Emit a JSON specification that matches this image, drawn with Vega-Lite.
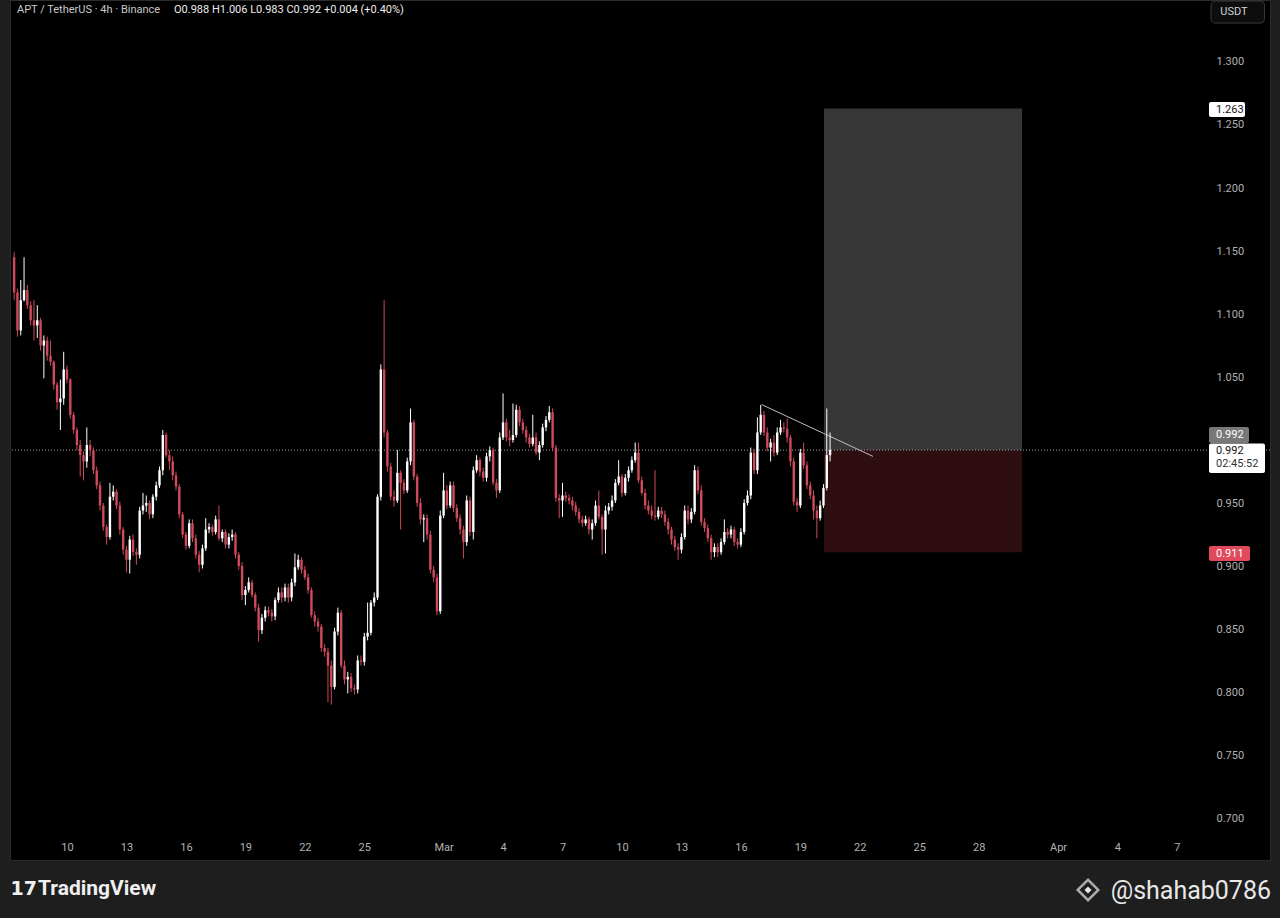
{
"$schema":"https://vega.github.io/schema/vega-lite/v6.json",
"width":1260,"height":860,
"autosize":{"type":"none"},
"padding":{"left":10,"top":0,"right":10,"bottom":58},
"background":"#1e1e1e",
"config":{"view":{"fill":"#000000","stroke":"#2b2b2b"},"font":"Roboto","scale":{"continuousPadding":0}},
"layer":[
{"data":{"values":[{"zone":"target","lo":0.992,"hi":1.263},{"zone":"stop","lo":0.911,"hi":0.992}]},
 "mark":{"type":"rect"},
 "encoding":{
  "x":{"datum":{"year":2026,"month":3,"date":20,"hours":4,"minutes":39,"utc":true},"type":"temporal","scale":{"type":"utc","nice":false,"padding":0,"domain":[{"year":2026,"month":2,"date":7,"hours":2,"minutes":59,"utc":true},{"year":2026,"month":4,"date":11,"hours":16,"minutes":42,"utc":true}]},
   "axis":{"orient":"bottom","offset":-13,"zindex":0,"labels":true,"domain":false,"ticks":false,"grid":false,"labelPadding":0,"labelBaseline":"middle","labelColor":"#b2b2b2","labelFontSize":11,"labelFont":"Roboto","labelFlush":false,"labelOverlap":false,"title":null,
    "values":[{"year":2026,"month":2,"date":10,"utc":true},{"year":2026,"month":2,"date":13,"utc":true},{"year":2026,"month":2,"date":16,"utc":true},{"year":2026,"month":2,"date":19,"utc":true},{"year":2026,"month":2,"date":22,"utc":true},{"year":2026,"month":2,"date":25,"utc":true},{"year":2026,"month":3,"date":1,"utc":true},{"year":2026,"month":3,"date":4,"utc":true},{"year":2026,"month":3,"date":7,"utc":true},{"year":2026,"month":3,"date":10,"utc":true},{"year":2026,"month":3,"date":13,"utc":true},{"year":2026,"month":3,"date":16,"utc":true},{"year":2026,"month":3,"date":19,"utc":true},{"year":2026,"month":3,"date":22,"utc":true},{"year":2026,"month":3,"date":25,"utc":true},{"year":2026,"month":3,"date":28,"utc":true},{"year":2026,"month":4,"date":1,"utc":true},{"year":2026,"month":4,"date":4,"utc":true},{"year":2026,"month":4,"date":7,"utc":true}],
    "labelExpr":"utcdate(datum.value) == 1 ? utcFormat(datum.value, '%b') : '' + utcdate(datum.value)"}},
  "x2":{"datum":{"year":2026,"month":3,"date":30,"hours":4,"minutes":25,"utc":true}},
  "y":{"field":"lo","type":"quantitative","scale":{"domain":[0.6667,1.3492],"zero":false,"nice":false,"padding":0},
   "axis":{"orient":"right","offset":-54,"zindex":0,"labels":true,"domain":false,"ticks":false,"grid":false,"labelPadding":0,"labelAlign":"left","labelBaseline":"middle","labelColor":"#b2b2b2","labelFontSize":11,"labelFont":"Roboto","labelFlush":false,"labelOverlap":false,"title":null,"format":".3f","values":[0.7,0.75,0.8,0.85,0.9,0.95,1.05,1.1,1.15,1.2,1.25,1.3]}},
  "y2":{"field":"hi"},
  "color":{"condition":{"test":"datum.zone==='target'","value":"#373737"},"value":"#2e0e11"}}},
{"data":{"values":[{"price":0.992}]},
 "mark":{"type":"rule","color":"#9e9e9e","strokeDash":[1,2],"strokeWidth":1},
 "encoding":{"y":{"field":"price","type":"quantitative","scale":{"domain":[0.6667,1.3492],"zero":false,"nice":false,"padding":0}}}},
{"data":{"values":[{"p0":1.028,"p1":0.987}]},
 "mark":{"type":"rule","color":"#bdbdbd","strokeWidth":1},
 "encoding":{
  "x":{"datum":{"year":2026,"month":3,"date":17,"hours":1,"minutes":35,"utc":true},"type":"temporal","scale":{"type":"utc","nice":false,"padding":0,"domain":[{"year":2026,"month":2,"date":7,"hours":2,"minutes":59,"utc":true},{"year":2026,"month":4,"date":11,"hours":16,"minutes":42,"utc":true}]}},
  "x2":{"datum":{"year":2026,"month":3,"date":22,"hours":16,"minutes":0,"utc":true}},
  "y":{"field":"p0","type":"quantitative","scale":{"domain":[0.6667,1.3492],"zero":false,"nice":false,"padding":0}},
  "y2":{"field":"p1"}}},
{"data":{"values":[
{"t":"2026-02-07T08:00Z","o":1.145,"h":1.149,"l":1.111,"c":1.117},
{"t":"2026-02-07T12:00Z","o":1.117,"h":1.120,"l":1.082,"c":1.087},
{"t":"2026-02-07T16:00Z","o":1.087,"h":1.127,"l":1.083,"c":1.111},
{"t":"2026-02-07T20:00Z","o":1.111,"h":1.145,"l":1.110,"c":1.119},
{"t":"2026-02-08T00:00Z","o":1.119,"h":1.123,"l":1.104,"c":1.107},
{"t":"2026-02-08T04:00Z","o":1.107,"h":1.110,"l":1.091,"c":1.095},
{"t":"2026-02-08T08:00Z","o":1.095,"h":1.111,"l":1.079,"c":1.091},
{"t":"2026-02-08T12:00Z","o":1.091,"h":1.107,"l":1.081,"c":1.095},
{"t":"2026-02-08T16:00Z","o":1.095,"h":1.097,"l":1.071,"c":1.075},
{"t":"2026-02-08T20:00Z","o":1.075,"h":1.083,"l":1.049,"c":1.079},
{"t":"2026-02-09T00:00Z","o":1.079,"h":1.082,"l":1.063,"c":1.067},
{"t":"2026-02-09T04:00Z","o":1.067,"h":1.079,"l":1.059,"c":1.062},
{"t":"2026-02-09T08:00Z","o":1.062,"h":1.063,"l":1.040,"c":1.044},
{"t":"2026-02-09T12:00Z","o":1.044,"h":1.046,"l":1.024,"c":1.030},
{"t":"2026-02-09T16:00Z","o":1.030,"h":1.048,"l":1.008,"c":1.033},
{"t":"2026-02-09T20:00Z","o":1.033,"h":1.070,"l":1.028,"c":1.056},
{"t":"2026-02-10T00:00Z","o":1.056,"h":1.059,"l":1.045,"c":1.048},
{"t":"2026-02-10T04:00Z","o":1.048,"h":1.049,"l":1.017,"c":1.020},
{"t":"2026-02-10T08:00Z","o":1.020,"h":1.022,"l":1.005,"c":1.008},
{"t":"2026-02-10T12:00Z","o":1.008,"h":1.010,"l":0.992,"c":0.996},
{"t":"2026-02-10T16:00Z","o":0.996,"h":1.000,"l":0.971,"c":0.988},
{"t":"2026-02-10T20:00Z","o":0.988,"h":0.991,"l":0.968,"c":0.983},
{"t":"2026-02-11T00:00Z","o":0.983,"h":1.010,"l":0.978,"c":0.996},
{"t":"2026-02-11T04:00Z","o":0.996,"h":1.000,"l":0.987,"c":0.992},
{"t":"2026-02-11T08:00Z","o":0.992,"h":0.994,"l":0.973,"c":0.976},
{"t":"2026-02-11T12:00Z","o":0.976,"h":0.979,"l":0.961,"c":0.964},
{"t":"2026-02-11T16:00Z","o":0.964,"h":0.967,"l":0.944,"c":0.948},
{"t":"2026-02-11T20:00Z","o":0.948,"h":0.950,"l":0.928,"c":0.931},
{"t":"2026-02-12T00:00Z","o":0.931,"h":0.933,"l":0.917,"c":0.923},
{"t":"2026-02-12T04:00Z","o":0.923,"h":0.966,"l":0.921,"c":0.955},
{"t":"2026-02-12T08:00Z","o":0.955,"h":0.964,"l":0.952,"c":0.959},
{"t":"2026-02-12T12:00Z","o":0.959,"h":0.961,"l":0.945,"c":0.948},
{"t":"2026-02-12T16:00Z","o":0.948,"h":0.951,"l":0.925,"c":0.929},
{"t":"2026-02-12T20:00Z","o":0.929,"h":0.931,"l":0.909,"c":0.913},
{"t":"2026-02-13T00:00Z","o":0.913,"h":0.916,"l":0.895,"c":0.905},
{"t":"2026-02-13T04:00Z","o":0.905,"h":0.924,"l":0.894,"c":0.921},
{"t":"2026-02-13T08:00Z","o":0.921,"h":0.925,"l":0.908,"c":0.911},
{"t":"2026-02-13T12:00Z","o":0.911,"h":0.914,"l":0.901,"c":0.909},
{"t":"2026-02-13T16:00Z","o":0.909,"h":0.947,"l":0.906,"c":0.944},
{"t":"2026-02-13T20:00Z","o":0.944,"h":0.958,"l":0.941,"c":0.948},
{"t":"2026-02-14T00:00Z","o":0.948,"h":0.956,"l":0.943,"c":0.950},
{"t":"2026-02-14T04:00Z","o":0.950,"h":0.952,"l":0.937,"c":0.941},
{"t":"2026-02-14T08:00Z","o":0.941,"h":0.957,"l":0.938,"c":0.955},
{"t":"2026-02-14T12:00Z","o":0.955,"h":0.967,"l":0.952,"c":0.964},
{"t":"2026-02-14T16:00Z","o":0.964,"h":0.979,"l":0.962,"c":0.976},
{"t":"2026-02-14T20:00Z","o":0.976,"h":1.008,"l":0.972,"c":1.004},
{"t":"2026-02-15T00:00Z","o":1.004,"h":1.006,"l":0.986,"c":0.988},
{"t":"2026-02-15T04:00Z","o":0.988,"h":0.992,"l":0.976,"c":0.983},
{"t":"2026-02-15T08:00Z","o":0.983,"h":0.987,"l":0.968,"c":0.972},
{"t":"2026-02-15T12:00Z","o":0.972,"h":0.975,"l":0.960,"c":0.963},
{"t":"2026-02-15T16:00Z","o":0.963,"h":0.965,"l":0.938,"c":0.941},
{"t":"2026-02-15T20:00Z","o":0.941,"h":0.943,"l":0.922,"c":0.925},
{"t":"2026-02-16T00:00Z","o":0.925,"h":0.927,"l":0.913,"c":0.916},
{"t":"2026-02-16T04:00Z","o":0.916,"h":0.937,"l":0.914,"c":0.934},
{"t":"2026-02-16T08:00Z","o":0.934,"h":0.937,"l":0.919,"c":0.922},
{"t":"2026-02-16T12:00Z","o":0.922,"h":0.925,"l":0.906,"c":0.909},
{"t":"2026-02-16T16:00Z","o":0.909,"h":0.912,"l":0.895,"c":0.901},
{"t":"2026-02-16T20:00Z","o":0.901,"h":0.917,"l":0.898,"c":0.914},
{"t":"2026-02-17T00:00Z","o":0.914,"h":0.938,"l":0.912,"c":0.929},
{"t":"2026-02-17T04:00Z","o":0.929,"h":0.934,"l":0.926,"c":0.931},
{"t":"2026-02-17T08:00Z","o":0.931,"h":0.933,"l":0.924,"c":0.927},
{"t":"2026-02-17T12:00Z","o":0.927,"h":0.940,"l":0.925,"c":0.937},
{"t":"2026-02-17T16:00Z","o":0.937,"h":0.948,"l":0.920,"c":0.922},
{"t":"2026-02-17T20:00Z","o":0.922,"h":0.929,"l":0.919,"c":0.927},
{"t":"2026-02-18T00:00Z","o":0.927,"h":0.929,"l":0.914,"c":0.917},
{"t":"2026-02-18T04:00Z","o":0.917,"h":0.926,"l":0.914,"c":0.923},
{"t":"2026-02-18T08:00Z","o":0.923,"h":0.929,"l":0.920,"c":0.925},
{"t":"2026-02-18T12:00Z","o":0.925,"h":0.927,"l":0.906,"c":0.909},
{"t":"2026-02-18T16:00Z","o":0.909,"h":0.911,"l":0.897,"c":0.900},
{"t":"2026-02-18T20:00Z","o":0.900,"h":0.903,"l":0.873,"c":0.877},
{"t":"2026-02-19T00:00Z","o":0.877,"h":0.884,"l":0.869,"c":0.881},
{"t":"2026-02-19T04:00Z","o":0.881,"h":0.891,"l":0.879,"c":0.887},
{"t":"2026-02-19T08:00Z","o":0.887,"h":0.889,"l":0.875,"c":0.877},
{"t":"2026-02-19T12:00Z","o":0.877,"h":0.879,"l":0.864,"c":0.867},
{"t":"2026-02-19T16:00Z","o":0.867,"h":0.870,"l":0.840,"c":0.849},
{"t":"2026-02-19T20:00Z","o":0.849,"h":0.862,"l":0.846,"c":0.859},
{"t":"2026-02-20T00:00Z","o":0.859,"h":0.868,"l":0.856,"c":0.865},
{"t":"2026-02-20T04:00Z","o":0.865,"h":0.868,"l":0.860,"c":0.863},
{"t":"2026-02-20T08:00Z","o":0.863,"h":0.866,"l":0.856,"c":0.860},
{"t":"2026-02-20T12:00Z","o":0.860,"h":0.875,"l":0.857,"c":0.873},
{"t":"2026-02-20T16:00Z","o":0.873,"h":0.883,"l":0.871,"c":0.879},
{"t":"2026-02-20T20:00Z","o":0.879,"h":0.883,"l":0.871,"c":0.875},
{"t":"2026-02-21T00:00Z","o":0.875,"h":0.886,"l":0.872,"c":0.883},
{"t":"2026-02-21T04:00Z","o":0.883,"h":0.886,"l":0.871,"c":0.875},
{"t":"2026-02-21T08:00Z","o":0.875,"h":0.890,"l":0.872,"c":0.887},
{"t":"2026-02-21T12:00Z","o":0.887,"h":0.910,"l":0.884,"c":0.899},
{"t":"2026-02-21T16:00Z","o":0.899,"h":0.909,"l":0.897,"c":0.905},
{"t":"2026-02-21T20:00Z","o":0.905,"h":0.907,"l":0.894,"c":0.897},
{"t":"2026-02-22T00:00Z","o":0.897,"h":0.900,"l":0.889,"c":0.891},
{"t":"2026-02-22T04:00Z","o":0.891,"h":0.894,"l":0.878,"c":0.881},
{"t":"2026-02-22T08:00Z","o":0.881,"h":0.883,"l":0.859,"c":0.861},
{"t":"2026-02-22T12:00Z","o":0.861,"h":0.864,"l":0.852,"c":0.856},
{"t":"2026-02-22T16:00Z","o":0.856,"h":0.859,"l":0.848,"c":0.852},
{"t":"2026-02-22T20:00Z","o":0.852,"h":0.854,"l":0.832,"c":0.835},
{"t":"2026-02-23T00:00Z","o":0.835,"h":0.838,"l":0.828,"c":0.832},
{"t":"2026-02-23T04:00Z","o":0.832,"h":0.835,"l":0.792,"c":0.821},
{"t":"2026-02-23T08:00Z","o":0.821,"h":0.825,"l":0.790,"c":0.804},
{"t":"2026-02-23T12:00Z","o":0.804,"h":0.851,"l":0.802,"c":0.848},
{"t":"2026-02-23T16:00Z","o":0.848,"h":0.867,"l":0.845,"c":0.863},
{"t":"2026-02-23T20:00Z","o":0.863,"h":0.865,"l":0.819,"c":0.821},
{"t":"2026-02-24T00:00Z","o":0.821,"h":0.825,"l":0.806,"c":0.810},
{"t":"2026-02-24T04:00Z","o":0.810,"h":0.816,"l":0.799,"c":0.812},
{"t":"2026-02-24T08:00Z","o":0.812,"h":0.815,"l":0.800,"c":0.803},
{"t":"2026-02-24T12:00Z","o":0.803,"h":0.806,"l":0.798,"c":0.802},
{"t":"2026-02-24T16:00Z","o":0.802,"h":0.829,"l":0.799,"c":0.825},
{"t":"2026-02-24T20:00Z","o":0.825,"h":0.829,"l":0.821,"c":0.824},
{"t":"2026-02-25T00:00Z","o":0.824,"h":0.847,"l":0.821,"c":0.844},
{"t":"2026-02-25T04:00Z","o":0.844,"h":0.871,"l":0.841,"c":0.847},
{"t":"2026-02-25T08:00Z","o":0.847,"h":0.873,"l":0.845,"c":0.871},
{"t":"2026-02-25T12:00Z","o":0.871,"h":0.879,"l":0.868,"c":0.875},
{"t":"2026-02-25T16:00Z","o":0.875,"h":0.957,"l":0.873,"c":0.955},
{"t":"2026-02-25T20:00Z","o":0.955,"h":1.060,"l":0.952,"c":1.056},
{"t":"2026-02-26T00:00Z","o":1.056,"h":1.111,"l":1.002,"c":1.006},
{"t":"2026-02-26T04:00Z","o":1.006,"h":1.008,"l":0.975,"c":0.979},
{"t":"2026-02-26T08:00Z","o":0.979,"h":0.982,"l":0.952,"c":0.955},
{"t":"2026-02-26T12:00Z","o":0.955,"h":0.960,"l":0.947,"c":0.952},
{"t":"2026-02-26T16:00Z","o":0.952,"h":0.992,"l":0.950,"c":0.974},
{"t":"2026-02-26T20:00Z","o":0.974,"h":0.976,"l":0.929,"c":0.966},
{"t":"2026-02-27T00:00Z","o":0.966,"h":0.969,"l":0.957,"c":0.960},
{"t":"2026-02-27T04:00Z","o":0.960,"h":0.986,"l":0.958,"c":0.983},
{"t":"2026-02-27T08:00Z","o":0.983,"h":1.025,"l":0.980,"c":1.014},
{"t":"2026-02-27T12:00Z","o":1.014,"h":1.016,"l":0.968,"c":0.971},
{"t":"2026-02-27T16:00Z","o":0.971,"h":0.973,"l":0.947,"c":0.950},
{"t":"2026-02-27T20:00Z","o":0.950,"h":0.954,"l":0.933,"c":0.937},
{"t":"2026-02-28T00:00Z","o":0.937,"h":0.941,"l":0.919,"c":0.938},
{"t":"2026-02-28T04:00Z","o":0.938,"h":0.941,"l":0.921,"c":0.925},
{"t":"2026-02-28T08:00Z","o":0.925,"h":0.928,"l":0.894,"c":0.897},
{"t":"2026-02-28T12:00Z","o":0.897,"h":0.900,"l":0.887,"c":0.891},
{"t":"2026-02-28T16:00Z","o":0.891,"h":0.894,"l":0.861,"c":0.864},
{"t":"2026-02-28T20:00Z","o":0.864,"h":0.944,"l":0.862,"c":0.940},
{"t":"2026-03-01T00:00Z","o":0.940,"h":0.974,"l":0.938,"c":0.960},
{"t":"2026-03-01T04:00Z","o":0.960,"h":0.964,"l":0.945,"c":0.948},
{"t":"2026-03-01T08:00Z","o":0.948,"h":0.967,"l":0.946,"c":0.964},
{"t":"2026-03-01T12:00Z","o":0.964,"h":0.967,"l":0.943,"c":0.946},
{"t":"2026-03-01T16:00Z","o":0.946,"h":0.949,"l":0.935,"c":0.938},
{"t":"2026-03-01T20:00Z","o":0.938,"h":0.941,"l":0.925,"c":0.929},
{"t":"2026-03-02T00:00Z","o":0.929,"h":0.932,"l":0.906,"c":0.919},
{"t":"2026-03-02T04:00Z","o":0.919,"h":0.956,"l":0.916,"c":0.952},
{"t":"2026-03-02T08:00Z","o":0.952,"h":0.955,"l":0.924,"c":0.927},
{"t":"2026-03-02T12:00Z","o":0.927,"h":0.979,"l":0.921,"c":0.976},
{"t":"2026-03-02T16:00Z","o":0.976,"h":0.988,"l":0.974,"c":0.984},
{"t":"2026-03-02T20:00Z","o":0.984,"h":0.986,"l":0.971,"c":0.975},
{"t":"2026-03-03T00:00Z","o":0.975,"h":0.978,"l":0.967,"c":0.970},
{"t":"2026-03-03T04:00Z","o":0.970,"h":0.990,"l":0.967,"c":0.987},
{"t":"2026-03-03T08:00Z","o":0.987,"h":0.995,"l":0.983,"c":0.992},
{"t":"2026-03-03T12:00Z","o":0.992,"h":0.994,"l":0.964,"c":0.966},
{"t":"2026-03-03T16:00Z","o":0.966,"h":0.969,"l":0.954,"c":0.960},
{"t":"2026-03-03T20:00Z","o":0.960,"h":1.006,"l":0.958,"c":1.002},
{"t":"2026-03-04T00:00Z","o":1.002,"h":1.037,"l":1.000,"c":1.014},
{"t":"2026-03-04T04:00Z","o":1.014,"h":1.017,"l":0.999,"c":1.002},
{"t":"2026-03-04T08:00Z","o":1.002,"h":1.008,"l":0.995,"c":1.000},
{"t":"2026-03-04T12:00Z","o":1.000,"h":1.029,"l":0.998,"c":1.004},
{"t":"2026-03-04T16:00Z","o":1.004,"h":1.028,"l":1.002,"c":1.024},
{"t":"2026-03-04T20:00Z","o":1.024,"h":1.027,"l":1.011,"c":1.014},
{"t":"2026-03-05T00:00Z","o":1.014,"h":1.017,"l":1.005,"c":1.008},
{"t":"2026-03-05T04:00Z","o":1.008,"h":1.011,"l":0.998,"c":1.002},
{"t":"2026-03-05T08:00Z","o":1.002,"h":1.005,"l":0.994,"c":0.997},
{"t":"2026-03-05T12:00Z","o":0.997,"h":1.020,"l":0.995,"c":1.002},
{"t":"2026-03-05T16:00Z","o":1.002,"h":1.006,"l":0.988,"c":0.990},
{"t":"2026-03-05T20:00Z","o":0.990,"h":0.999,"l":0.984,"c":0.996},
{"t":"2026-03-06T00:00Z","o":0.996,"h":1.013,"l":0.994,"c":1.010},
{"t":"2026-03-06T04:00Z","o":1.010,"h":1.019,"l":1.007,"c":1.016},
{"t":"2026-03-06T08:00Z","o":1.016,"h":1.027,"l":1.014,"c":1.022},
{"t":"2026-03-06T12:00Z","o":1.022,"h":1.025,"l":0.991,"c":0.994},
{"t":"2026-03-06T16:00Z","o":0.994,"h":0.996,"l":0.951,"c":0.954},
{"t":"2026-03-06T20:00Z","o":0.954,"h":0.957,"l":0.938,"c":0.952},
{"t":"2026-03-07T00:00Z","o":0.952,"h":0.966,"l":0.939,"c":0.956},
{"t":"2026-03-07T04:00Z","o":0.956,"h":0.959,"l":0.951,"c":0.954},
{"t":"2026-03-07T08:00Z","o":0.954,"h":0.957,"l":0.949,"c":0.952},
{"t":"2026-03-07T12:00Z","o":0.952,"h":0.955,"l":0.944,"c":0.948},
{"t":"2026-03-07T16:00Z","o":0.948,"h":0.951,"l":0.940,"c":0.943},
{"t":"2026-03-07T20:00Z","o":0.943,"h":0.946,"l":0.934,"c":0.937},
{"t":"2026-03-08T00:00Z","o":0.937,"h":0.940,"l":0.931,"c":0.934},
{"t":"2026-03-08T04:00Z","o":0.934,"h":0.940,"l":0.932,"c":0.937},
{"t":"2026-03-08T08:00Z","o":0.937,"h":0.939,"l":0.925,"c":0.929},
{"t":"2026-03-08T12:00Z","o":0.929,"h":0.937,"l":0.921,"c":0.934},
{"t":"2026-03-08T16:00Z","o":0.934,"h":0.952,"l":0.932,"c":0.948},
{"t":"2026-03-08T20:00Z","o":0.948,"h":0.960,"l":0.937,"c":0.939},
{"t":"2026-03-09T00:00Z","o":0.939,"h":0.941,"l":0.909,"c":0.929},
{"t":"2026-03-09T04:00Z","o":0.929,"h":0.948,"l":0.910,"c":0.944},
{"t":"2026-03-09T08:00Z","o":0.944,"h":0.950,"l":0.941,"c":0.947},
{"t":"2026-03-09T12:00Z","o":0.947,"h":0.956,"l":0.944,"c":0.952},
{"t":"2026-03-09T16:00Z","o":0.952,"h":0.969,"l":0.950,"c":0.966},
{"t":"2026-03-09T20:00Z","o":0.966,"h":0.984,"l":0.964,"c":0.971},
{"t":"2026-03-10T00:00Z","o":0.971,"h":0.973,"l":0.955,"c":0.958},
{"t":"2026-03-10T04:00Z","o":0.958,"h":0.973,"l":0.956,"c":0.970},
{"t":"2026-03-10T08:00Z","o":0.970,"h":0.979,"l":0.967,"c":0.976},
{"t":"2026-03-10T12:00Z","o":0.976,"h":0.987,"l":0.974,"c":0.984},
{"t":"2026-03-10T16:00Z","o":0.984,"h":0.998,"l":0.982,"c":0.990},
{"t":"2026-03-10T20:00Z","o":0.990,"h":0.998,"l":0.966,"c":0.968},
{"t":"2026-03-11T00:00Z","o":0.968,"h":0.971,"l":0.956,"c":0.958},
{"t":"2026-03-11T04:00Z","o":0.958,"h":0.961,"l":0.945,"c":0.948},
{"t":"2026-03-11T08:00Z","o":0.948,"h":0.952,"l":0.941,"c":0.944},
{"t":"2026-03-11T12:00Z","o":0.944,"h":0.948,"l":0.937,"c":0.940},
{"t":"2026-03-11T16:00Z","o":0.940,"h":0.976,"l":0.936,"c":0.939},
{"t":"2026-03-11T20:00Z","o":0.939,"h":0.947,"l":0.937,"c":0.944},
{"t":"2026-03-12T00:00Z","o":0.944,"h":0.947,"l":0.938,"c":0.941},
{"t":"2026-03-12T04:00Z","o":0.941,"h":0.944,"l":0.932,"c":0.935},
{"t":"2026-03-12T08:00Z","o":0.935,"h":0.938,"l":0.925,"c":0.929},
{"t":"2026-03-12T12:00Z","o":0.929,"h":0.931,"l":0.917,"c":0.921},
{"t":"2026-03-12T16:00Z","o":0.921,"h":0.924,"l":0.912,"c":0.915},
{"t":"2026-03-12T20:00Z","o":0.915,"h":0.918,"l":0.905,"c":0.913},
{"t":"2026-03-13T00:00Z","o":0.913,"h":0.926,"l":0.910,"c":0.923},
{"t":"2026-03-13T04:00Z","o":0.923,"h":0.948,"l":0.921,"c":0.944},
{"t":"2026-03-13T08:00Z","o":0.944,"h":0.948,"l":0.933,"c":0.937},
{"t":"2026-03-13T12:00Z","o":0.937,"h":0.946,"l":0.934,"c":0.943},
{"t":"2026-03-13T16:00Z","o":0.943,"h":0.980,"l":0.941,"c":0.976},
{"t":"2026-03-13T20:00Z","o":0.976,"h":0.979,"l":0.957,"c":0.960},
{"t":"2026-03-14T00:00Z","o":0.960,"h":0.964,"l":0.932,"c":0.935},
{"t":"2026-03-14T04:00Z","o":0.935,"h":0.938,"l":0.927,"c":0.930},
{"t":"2026-03-14T08:00Z","o":0.930,"h":0.933,"l":0.919,"c":0.922},
{"t":"2026-03-14T12:00Z","o":0.922,"h":0.925,"l":0.905,"c":0.911},
{"t":"2026-03-14T16:00Z","o":0.911,"h":0.918,"l":0.907,"c":0.915},
{"t":"2026-03-14T20:00Z","o":0.915,"h":0.918,"l":0.907,"c":0.911},
{"t":"2026-03-15T00:00Z","o":0.911,"h":0.922,"l":0.909,"c":0.919},
{"t":"2026-03-15T04:00Z","o":0.919,"h":0.937,"l":0.917,"c":0.927},
{"t":"2026-03-15T08:00Z","o":0.927,"h":0.930,"l":0.922,"c":0.925},
{"t":"2026-03-15T12:00Z","o":0.925,"h":0.932,"l":0.922,"c":0.929},
{"t":"2026-03-15T16:00Z","o":0.929,"h":0.931,"l":0.916,"c":0.919},
{"t":"2026-03-15T20:00Z","o":0.919,"h":0.922,"l":0.914,"c":0.917},
{"t":"2026-03-16T00:00Z","o":0.917,"h":0.930,"l":0.915,"c":0.927},
{"t":"2026-03-16T04:00Z","o":0.927,"h":0.953,"l":0.925,"c":0.950},
{"t":"2026-03-16T08:00Z","o":0.950,"h":0.960,"l":0.948,"c":0.956},
{"t":"2026-03-16T12:00Z","o":0.956,"h":0.994,"l":0.953,"c":0.990},
{"t":"2026-03-16T16:00Z","o":0.990,"h":0.993,"l":0.973,"c":0.976},
{"t":"2026-03-16T20:00Z","o":0.976,"h":1.018,"l":0.973,"c":1.006},
{"t":"2026-03-17T00:00Z","o":1.006,"h":1.028,"l":1.004,"c":1.020},
{"t":"2026-03-17T04:00Z","o":1.020,"h":1.023,"l":1.003,"c":1.006},
{"t":"2026-03-17T08:00Z","o":1.006,"h":1.010,"l":0.991,"c":0.994},
{"t":"2026-03-17T12:00Z","o":0.994,"h":1.001,"l":0.983,"c":0.998},
{"t":"2026-03-17T16:00Z","o":0.998,"h":1.004,"l":0.987,"c":0.990},
{"t":"2026-03-17T20:00Z","o":0.990,"h":1.010,"l":0.988,"c":1.006},
{"t":"2026-03-18T00:00Z","o":1.006,"h":1.016,"l":1.004,"c":1.010},
{"t":"2026-03-18T04:00Z","o":1.010,"h":1.014,"l":1.006,"c":1.009},
{"t":"2026-03-18T08:00Z","o":1.009,"h":1.017,"l":0.998,"c":1.002},
{"t":"2026-03-18T12:00Z","o":1.002,"h":1.004,"l":0.979,"c":0.983},
{"t":"2026-03-18T16:00Z","o":0.983,"h":0.986,"l":0.948,"c":0.951},
{"t":"2026-03-18T20:00Z","o":0.951,"h":0.954,"l":0.943,"c":0.948},
{"t":"2026-03-19T00:00Z","o":0.948,"h":0.993,"l":0.946,"c":0.990},
{"t":"2026-03-19T04:00Z","o":0.990,"h":0.998,"l":0.977,"c":0.980},
{"t":"2026-03-19T08:00Z","o":0.980,"h":0.983,"l":0.961,"c":0.964},
{"t":"2026-03-19T12:00Z","o":0.964,"h":0.967,"l":0.953,"c":0.956},
{"t":"2026-03-19T16:00Z","o":0.956,"h":0.960,"l":0.937,"c":0.944},
{"t":"2026-03-19T20:00Z","o":0.944,"h":0.948,"l":0.922,"c":0.938},
{"t":"2026-03-20T00:00Z","o":0.938,"h":0.952,"l":0.936,"c":0.948},
{"t":"2026-03-20T04:00Z","o":0.948,"h":0.965,"l":0.946,"c":0.962},
{"t":"2026-03-20T08:00Z","o":0.962,"h":1.025,"l":0.960,"c":0.988},
{"t":"2026-03-20T12:00Z","o":0.988,"h":1.006,"l":0.983,"c":0.992}
]},
 "encoding":{
  "x":{"field":"t","type":"temporal","scale":{"type":"utc","nice":false,"padding":0,"domain":[{"year":2026,"month":2,"date":7,"hours":2,"minutes":59,"utc":true},{"year":2026,"month":4,"date":11,"hours":16,"minutes":42,"utc":true}]}},
  "color":{"condition":{"test":"datum.c >= datum.o","value":"#ffffff"},"value":"#cf4a5a"}},
 "layer":[
  {"mark":{"type":"rule","strokeWidth":1},
   "encoding":{"y":{"field":"l","type":"quantitative","scale":{"domain":[0.6667,1.3492],"zero":false,"nice":false,"padding":0}},
    "y2":{"field":"h"}}},
  {"mark":{"type":"bar","width":2.4},
   "encoding":{"y":{"field":"o","type":"quantitative","scale":{"domain":[0.6667,1.3492],"zero":false,"nice":false,"padding":0}},
    "y2":{"field":"c"}}}
 ]},
{"data":{"values":[{}]},"mark":{"type":"rect","color":"#ffffff","cornerRadius":2},
 "encoding":{"x":{"datum":{"year":2026,"month":4,"date":8,"hours":14,"minutes":50,"utc":true},"type":"temporal","scale":{"type":"utc","nice":false,"padding":0,"domain":[{"year":2026,"month":2,"date":7,"hours":2,"minutes":59,"utc":true},{"year":2026,"month":4,"date":11,"hours":16,"minutes":42,"utc":true}]}},
  "x2":{"datum":{"year":2026,"month":4,"date":10,"hours":10,"minutes":26,"utc":true}},
  "y":{"datum":1.2563,"type":"quantitative","scale":{"domain":[0.6667,1.3492],"zero":false,"nice":false,"padding":0}},"y2":{"datum":1.2683}}},
{"data":{"values":[{}]},"mark":{"type":"text","text":"1.263","color":"#131313","fontSize":11,"font":"Roboto","align":"left","baseline":"middle"},
 "encoding":{"x":{"datum":{"year":2026,"month":4,"date":8,"hours":23,"minutes":20,"utc":true},"type":"temporal","scale":{"type":"utc","nice":false,"padding":0,"domain":[{"year":2026,"month":2,"date":7,"hours":2,"minutes":59,"utc":true},{"year":2026,"month":4,"date":11,"hours":16,"minutes":42,"utc":true}]}},
  "y":{"datum":1.2623,"type":"quantitative","scale":{"domain":[0.6667,1.3492],"zero":false,"nice":false,"padding":0}}}},
{"data":{"values":[{}]},"mark":{"type":"rect","color":"#787878","cornerRadius":2},
 "encoding":{"x":{"datum":{"year":2026,"month":4,"date":8,"hours":14,"minutes":50,"utc":true},"type":"temporal","scale":{"type":"utc","nice":false,"padding":0,"domain":[{"year":2026,"month":2,"date":7,"hours":2,"minutes":59,"utc":true},{"year":2026,"month":4,"date":11,"hours":16,"minutes":42,"utc":true}]}},
  "x2":{"datum":{"year":2026,"month":4,"date":10,"hours":15,"minutes":17,"utc":true}},
  "y":{"datum":0.9976,"type":"quantitative","scale":{"domain":[0.6667,1.3492],"zero":false,"nice":false,"padding":0}},"y2":{"datum":1.0103}}},
{"data":{"values":[{}]},"mark":{"type":"text","text":"0.992","color":"#ffffff","fontSize":11,"font":"Roboto","align":"left","baseline":"middle"},
 "encoding":{"x":{"datum":{"year":2026,"month":4,"date":8,"hours":23,"minutes":20,"utc":true},"type":"temporal","scale":{"type":"utc","nice":false,"padding":0,"domain":[{"year":2026,"month":2,"date":7,"hours":2,"minutes":59,"utc":true},{"year":2026,"month":4,"date":11,"hours":16,"minutes":42,"utc":true}]}},
  "y":{"datum":1.004,"type":"quantitative","scale":{"domain":[0.6667,1.3492],"zero":false,"nice":false,"padding":0}}}},
{"data":{"values":[{}]},"mark":{"type":"rect","color":"#ffffff","cornerRadius":2},
 "encoding":{"x":{"datum":{"year":2026,"month":4,"date":8,"hours":14,"minutes":50,"utc":true},"type":"temporal","scale":{"type":"utc","nice":false,"padding":0,"domain":[{"year":2026,"month":2,"date":7,"hours":2,"minutes":59,"utc":true},{"year":2026,"month":4,"date":11,"hours":16,"minutes":42,"utc":true}]}},
  "x2":{"datum":{"year":2026,"month":4,"date":11,"hours":10,"minutes":39,"utc":true}},
  "y":{"datum":0.9738,"type":"quantitative","scale":{"domain":[0.6667,1.3492],"zero":false,"nice":false,"padding":0}},"y2":{"datum":0.9972}}},
{"data":{"values":[{}]},"mark":{"type":"text","text":"0.992","color":"#131313","fontSize":11,"font":"Roboto","align":"left","baseline":"middle"},
 "encoding":{"x":{"datum":{"year":2026,"month":4,"date":8,"hours":23,"minutes":20,"utc":true},"type":"temporal","scale":{"type":"utc","nice":false,"padding":0,"domain":[{"year":2026,"month":2,"date":7,"hours":2,"minutes":59,"utc":true},{"year":2026,"month":4,"date":11,"hours":16,"minutes":42,"utc":true}]}},
  "y":{"datum":0.9913,"type":"quantitative","scale":{"domain":[0.6667,1.3492],"zero":false,"nice":false,"padding":0}}}},
{"data":{"values":[{}]},"mark":{"type":"text","text":"02:45:52","color":"#333333","fontSize":11,"font":"Roboto","align":"left","baseline":"middle"},
 "encoding":{"x":{"datum":{"year":2026,"month":4,"date":8,"hours":23,"minutes":20,"utc":true},"type":"temporal","scale":{"type":"utc","nice":false,"padding":0,"domain":[{"year":2026,"month":2,"date":7,"hours":2,"minutes":59,"utc":true},{"year":2026,"month":4,"date":11,"hours":16,"minutes":42,"utc":true}]}},
  "y":{"datum":0.981,"type":"quantitative","scale":{"domain":[0.6667,1.3492],"zero":false,"nice":false,"padding":0}}}},
{"data":{"values":[{}]},"mark":{"type":"rect","color":"#e04a5c","cornerRadius":2},
 "encoding":{"x":{"datum":{"year":2026,"month":4,"date":8,"hours":14,"minutes":50,"utc":true},"type":"temporal","scale":{"type":"utc","nice":false,"padding":0,"domain":[{"year":2026,"month":2,"date":7,"hours":2,"minutes":59,"utc":true},{"year":2026,"month":4,"date":11,"hours":16,"minutes":42,"utc":true}]}},
  "x2":{"datum":{"year":2026,"month":4,"date":10,"hours":16,"minutes":29,"utc":true}},
  "y":{"datum":0.904,"type":"quantitative","scale":{"domain":[0.6667,1.3492],"zero":false,"nice":false,"padding":0}},"y2":{"datum":0.9159}}},
{"data":{"values":[{}]},"mark":{"type":"text","text":"0.911","color":"#ffffff","fontSize":11,"font":"Roboto","align":"left","baseline":"middle"},
 "encoding":{"x":{"datum":{"year":2026,"month":4,"date":8,"hours":23,"minutes":20,"utc":true},"type":"temporal","scale":{"type":"utc","nice":false,"padding":0,"domain":[{"year":2026,"month":2,"date":7,"hours":2,"minutes":59,"utc":true},{"year":2026,"month":4,"date":11,"hours":16,"minutes":42,"utc":true}]}},
  "y":{"datum":0.9099,"type":"quantitative","scale":{"domain":[0.6667,1.3492],"zero":false,"nice":false,"padding":0}}}},
{"data":{"values":[{}]},"mark":{"type":"rect","color":"#0d0d0d","stroke":"#3a3a3a","strokeWidth":1,"cornerRadius":4},
 "encoding":{"x":{"datum":{"year":2026,"month":4,"date":8,"hours":17,"minutes":17,"utc":true},"type":"temporal","scale":{"type":"utc","nice":false,"padding":0,"domain":[{"year":2026,"month":2,"date":7,"hours":2,"minutes":59,"utc":true},{"year":2026,"month":4,"date":11,"hours":16,"minutes":42,"utc":true}]}},
  "x2":{"datum":{"year":2026,"month":4,"date":11,"hours":10,"minutes":0,"utc":true}},
  "y":{"datum":1.3309,"type":"quantitative","scale":{"domain":[0.6667,1.3492],"zero":false,"nice":false,"padding":0}},"y2":{"datum":1.3484}}},
{"data":{"values":[{}]},"mark":{"type":"text","text":"USDT","color":"#d1d4dc","fontSize":11,"font":"Roboto","align":"center","baseline":"middle"},
 "encoding":{"x":{"datum":{"year":2026,"month":4,"date":9,"hours":21,"minutes":0,"utc":true},"type":"temporal","scale":{"type":"utc","nice":false,"padding":0,"domain":[{"year":2026,"month":2,"date":7,"hours":2,"minutes":59,"utc":true},{"year":2026,"month":4,"date":11,"hours":16,"minutes":42,"utc":true}]}},
  "y":{"datum":1.3397,"type":"quantitative","scale":{"domain":[0.6667,1.3492],"zero":false,"nice":false,"padding":0}}}},
{"data":{"values":[{}]},"mark":{"type":"text","text":"APT / TetherUS · 4h · Binance","color":"#c8c8c8","fontSize":11,"font":"Roboto","align":"left","baseline":"middle"},
 "encoding":{"x":{"datum":{"year":2026,"month":2,"date":7,"hours":11,"minutes":27,"utc":true},"type":"temporal","scale":{"type":"utc","nice":false,"padding":0,"domain":[{"year":2026,"month":2,"date":7,"hours":2,"minutes":59,"utc":true},{"year":2026,"month":4,"date":11,"hours":16,"minutes":42,"utc":true}]}},
  "y":{"datum":1.3413,"type":"quantitative","scale":{"domain":[0.6667,1.3492],"zero":false,"nice":false,"padding":0}}}},
{"data":{"values":[{}]},"mark":{"type":"text","text":"O0.988  H1.006  L0.983  C0.992  +0.004 (+0.40%)","color":"#ececec","fontSize":11,"font":"Roboto","align":"left","baseline":"middle"},
 "encoding":{"x":{"datum":{"year":2026,"month":2,"date":15,"hours":9,"minutes":36,"utc":true},"type":"temporal","scale":{"type":"utc","nice":false,"padding":0,"domain":[{"year":2026,"month":2,"date":7,"hours":2,"minutes":59,"utc":true},{"year":2026,"month":4,"date":11,"hours":16,"minutes":42,"utc":true}]}},
  "y":{"datum":1.3413,"type":"quantitative","scale":{"domain":[0.6667,1.3492],"zero":false,"nice":false,"padding":0}}}},
{"data":{"values":[{}]},"mark":{"type":"text","text":"17","color":"#f0f0f0","fontSize":19,"fontWeight":900,"font":"DejaVu Sans","align":"left","baseline":"middle"},
 "encoding":{"x":{"datum":{"year":2026,"month":2,"date":7,"hours":3,"minutes":30,"utc":true},"type":"temporal","scale":{"type":"utc","nice":false,"padding":0,"domain":[{"year":2026,"month":2,"date":7,"hours":2,"minutes":59,"utc":true},{"year":2026,"month":4,"date":11,"hours":16,"minutes":42,"utc":true}]}},
  "y":{"datum":0.6436,"type":"quantitative","scale":{"domain":[0.6667,1.3492],"zero":false,"nice":false,"padding":0}}}},
{"data":{"values":[{}]},"mark":{"type":"text","text":"TradingView","color":"#f0f0f0","fontSize":21,"fontWeight":"bold","font":"Roboto","align":"left","baseline":"middle"},
 "encoding":{"x":{"datum":{"year":2026,"month":2,"date":8,"hours":12,"minutes":53,"utc":true},"type":"temporal","scale":{"type":"utc","nice":false,"padding":0,"domain":[{"year":2026,"month":2,"date":7,"hours":2,"minutes":59,"utc":true},{"year":2026,"month":4,"date":11,"hours":16,"minutes":42,"utc":true}]}},
  "y":{"datum":0.6436,"type":"quantitative","scale":{"domain":[0.6667,1.3492],"zero":false,"nice":false,"padding":0}}}},
{"data":{"values":[{}]},"mark":{"type":"point","shape":"diamond","size":420,"filled":false,"color":"#e8e8e8","strokeWidth":2.5},
 "encoding":{"x":{"datum":{"year":2026,"month":4,"date":2,"hours":12,"minutes":20,"utc":true},"type":"temporal","scale":{"type":"utc","nice":false,"padding":0,"domain":[{"year":2026,"month":2,"date":7,"hours":2,"minutes":59,"utc":true},{"year":2026,"month":4,"date":11,"hours":16,"minutes":42,"utc":true}]}},
  "y":{"datum":0.6429,"type":"quantitative","scale":{"domain":[0.6667,1.3492],"zero":false,"nice":false,"padding":0}}}},
{"data":{"values":[{}]},"mark":{"type":"point","shape":"diamond","size":50,"filled":true,"color":"#e8e8e8","opacity":1},
 "encoding":{"x":{"datum":{"year":2026,"month":4,"date":2,"hours":12,"minutes":20,"utc":true},"type":"temporal","scale":{"type":"utc","nice":false,"padding":0,"domain":[{"year":2026,"month":2,"date":7,"hours":2,"minutes":59,"utc":true},{"year":2026,"month":4,"date":11,"hours":16,"minutes":42,"utc":true}]}},
  "y":{"datum":0.6429,"type":"quantitative","scale":{"domain":[0.6667,1.3492],"zero":false,"nice":false,"padding":0}}}},
{"data":{"values":[{}]},"mark":{"type":"text","text":"@shahab0786","color":"#e8e8e8","fontSize":25,"font":"Roboto","align":"right","baseline":"middle"},
 "encoding":{"x":{"datum":{"year":2026,"month":4,"date":11,"hours":17,"minutes":56,"utc":true},"type":"temporal","scale":{"type":"utc","nice":false,"padding":0,"domain":[{"year":2026,"month":2,"date":7,"hours":2,"minutes":59,"utc":true},{"year":2026,"month":4,"date":11,"hours":16,"minutes":42,"utc":true}]}},
  "y":{"datum":0.6421,"type":"quantitative","scale":{"domain":[0.6667,1.3492],"zero":false,"nice":false,"padding":0}}}}
]
}
